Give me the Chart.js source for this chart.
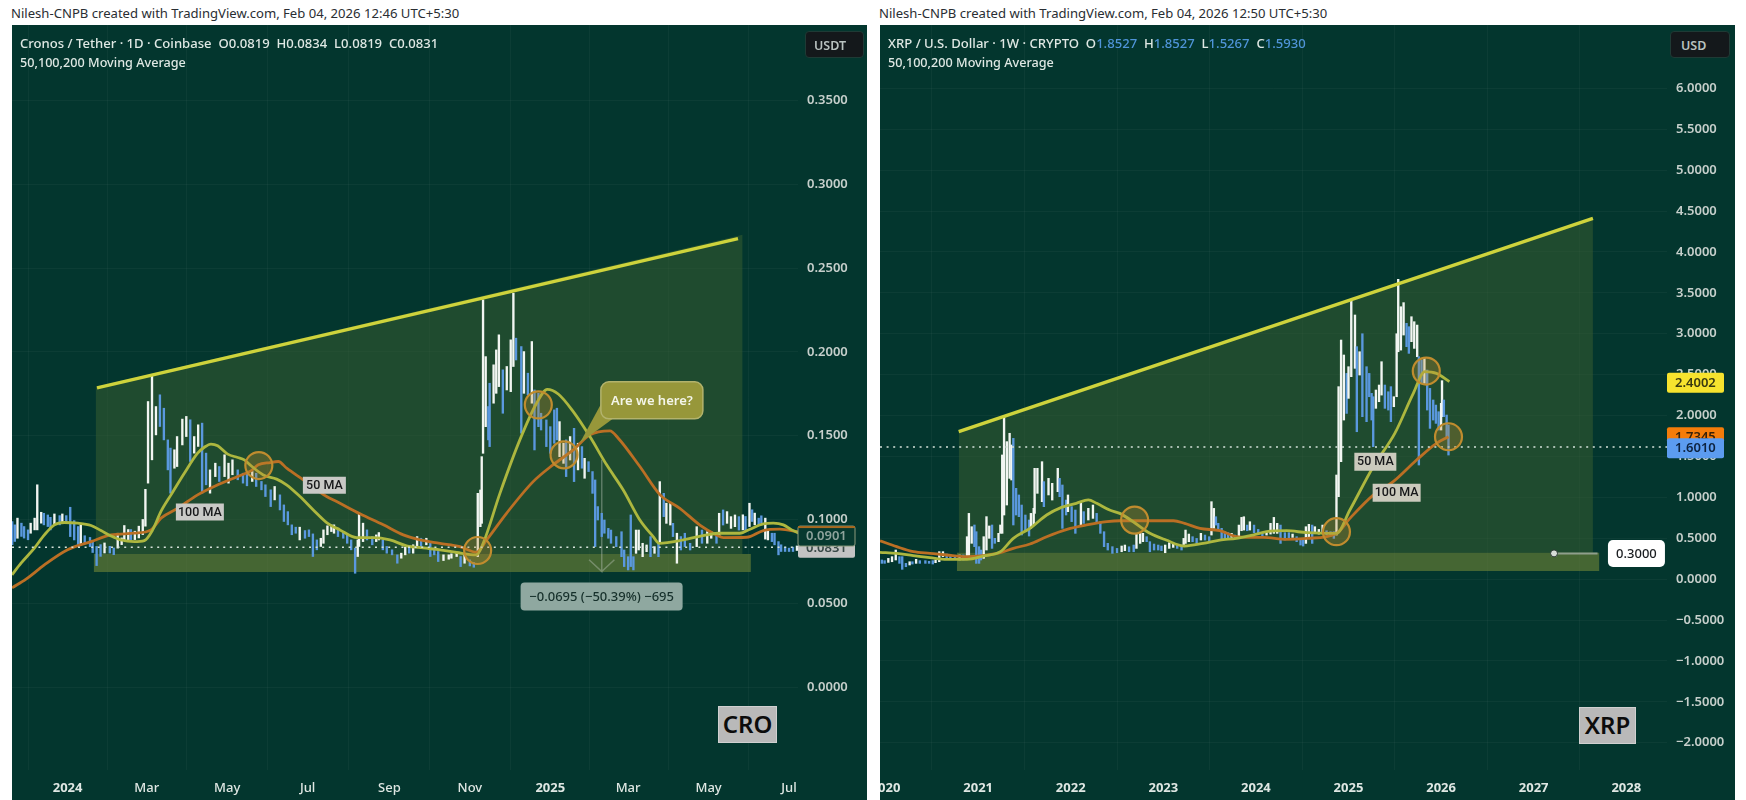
<!DOCTYPE html>
<html><head><meta charset="utf-8">
<script src="https://cdn.jsdelivr.net/npm/chart.js@4/dist/chart.umd.js"></script>
<style>
html,body{margin:0;padding:0;background:#fff;width:1746px;height:800px;overflow:hidden}
canvas{position:absolute;background:#03362e;display:block}
.t{position:absolute;white-space:pre;font-family:"Noto Sans",sans-serif;line-height:16px}
.cap{top:5px;font-size:13.1px;color:#2a2e33}
.leg{font-size:13.1px;font-weight:500;color:#dfe8e4}
.leg2{font-size:12.65px}
.leg b{font-weight:500;color:#4f94d8}
.unit{top:31px;height:27px;background:#14181b;border-radius:4px;font-size:12.5px;font-weight:600;color:#b9c2c0;line-height:27px;border:1px solid #1f3a35;box-sizing:border-box}
.sym{background:#b9b9b9;border:1.5px solid #d0d0d0;box-sizing:border-box;color:#0c0c0c;font-size:24px;font-weight:600;text-align:center}
</style></head><body>
<canvas id="cro" width="855" height="775" style="left:12px;top:25px;width:855px;height:775px"></canvas>
<canvas id="xrp" width="855" height="775" style="left:880px;top:25px;width:855px;height:775px"></canvas>
<div class="t cap" style="left:11px">Nilesh-CNPB created with TradingView.com, Feb 04, 2026 12:46 UTC+5:30</div>
<div class="t cap" style="left:879px">Nilesh-CNPB created with TradingView.com, Feb 04, 2026 12:50 UTC+5:30</div>
<div class="t leg" style="left:20px;top:35px">Cronos / Tether · 1D · Coinbase  O0.0819  H0.0834  L0.0819  C0.0831</div>
<div class="t leg leg2" style="left:20px;top:54px">50,100,200 Moving Average</div>
<div class="t leg" style="left:888px;top:35px">XRP / U.S. Dollar · 1W · CRYPTO  O<b>1.8527</b>  H<b>1.8527</b>  L<b>1.5267</b>  C<b>1.5930</b></div>
<div class="t leg leg2" style="left:888px;top:54px">50,100,200 Moving Average</div>
<div class="t unit" style="left:805px;width:59px;padding-left:8px">USDT</div>
<div class="t unit" style="left:1670px;width:60px;padding-left:10px">USD</div>
<div class="t sym" style="left:718px;top:706px;width:59px;height:37px;line-height:33px">CRO</div>
<div class="t sym" style="left:1579px;top:707px;width:57px;height:37px;line-height:33px">XRP</div>
<script>
// ---------- CRO panel data (x = days since 1 Jan 2024) ----------
const croDays=[-42,-40,-38,-35,-33,-30,-28,-25,-23,-20,-18,-15,-13,-10,-6,-4,-1,2,5,8,10,13,17,19,22,25,28,32,35,38,41,43,46,48,51,54,57,59,61,64,67,70,73,76,78,81,83,87,90,93,96,99,102,105,108,112,115,119,122,125,129,133,136,
140,143,147,150,154,157,161,164,167,170,173,176,180,183,186,189,192,194,197,200,202,205,209,212,215,218,220,221,224,227,231,234,236,239,242,246,250,253,256,259,262,265,268,272,275,278,281,285,289,291,295,298,301,305,308,311,313,314,315,317,319,320,323,325,327,330,333,336,338,340,344,346,349,352,354,357,359,363,366,369,371,373,376,378,381,384,387,390,392,395,398,400,402,405,407,410,412,416,420,422,425,427,429,431,433,436,439,442,445,448,449,452,454,457,459,462,465,468,472,477,481,485,488,492,494,497,500,503,506,509,512,514,517,519,521,524,526,529,531,534,536,539,541,544,547,550,553];
const croHigh=[.0988,.0968,.1008,.0978,.0958,.0938,.0978,.1008,.1207,.1043,.1037,.1027,.1013,.1033,.1023,.1033,.1023,.1073,.0993,.0958,.0968,.0903,.0893,.0873,.0839,.085,.086,.084,.083,.0918,.089,.0964,.094,.094,.093,.096,.100,.118,.1704,.1857,.1674,.1744,.1664,.1475,.1426,.1416,.1495,.1599,.1615,.1595,.1495,.1565,.1575,.1396,.1296,.1336,.1316,.1386,.1336,.1356,.1296,.1276,.1276,
.1286,.1276,.1227,.1207,.1177,.1197,.1147,.1087,.1047,.0968,.0954,.0954,.0934,.0938,.0914,.0878,.0888,.0938,.0962,.0968,.0968,.0938,.0928,.0908,.0878,.0829,.0878,.1034,.0978,.0938,.0898,.0908,.0922,.0878,.0839,.0819,.0789,.0799,.0835,.0839,.0849,.0898,.0888,.0888,.0858,.0829,.0809,.0789,.0789,.0795,.0803,.0779,.0789,.0759,.0743,.1156,.1176,.1375,.2311,.1972,.1674,.1813,.1923,.2012,.2102,.1893,.1913,.2072,.2350,.2082,.2032,.2002,.1873,.2062,.1773,.1753,.1634,.1594,.1554,.1654,.1664,.1584,.1455,.1475,.1495,.1544,.1455,.1435,.1365,.1345,.1286,.1236,.1077,.1037,.0997,.0947,.0937,.0898,.0927,.0818,.0778,.1027,.0778,.0937,.0937,.0858,.0848,.0898,.0838,.0858,.1226,.1156,.1097,.1097,.0977,.0918,.0898,.0918,.0858,.0957,.0937,.0927,.0927,.0918,.1037,.1057,.1047,.1017,.1027,.1017,.1028,.1018,.1097,.1058,.1038,.1008,.1022,.1008,.0938,.0918,.0918,.0868,.0849,.0835,.0829,.0835,.0842];
const croLow=[.0849,.0869,.0888,.0899,.0889,.0879,.0918,.0938,.0938,.0978,.0968,.0958,.0938,.0968,.0968,.0983,.0978,.0898,.0878,.0849,.0849,.0858,.0838,.0803,.0725,.078,.080,.080,.079,.0829,.085,.088,.088,.088,.088,.089,.091,.096,.1217,.1356,.1505,.1555,.1475,.1296,.1157,.1306,.1316,.1445,.1495,.1346,.1396,.1436,.1157,.1207,.1157,.1256,.1227,.1256,.1217,.1267,.1237,.1217,.1201,
.1227,.1197,.1177,.1137,.1077,.1117,.1057,.0988,.0968,.0909,.0918,.0878,.0888,.0898,.0779,.0819,.0839,.0858,.0909,.0928,.0918,.0898,.0888,.0858,.0819,.0679,.0779,.0839,.0868,.0878,.0849,.0868,.0878,.0819,.0799,.0789,.0739,.0769,.0789,.0799,.0799,.0839,.0839,.0849,.0779,.0789,.0749,.0755,.0763,.0769,.0779,.0719,.0739,.0723,.0715,.0778,.0957,.0977,.1395,.1554,.1475,.1435,.1694,.1753,.1793,.1634,.1773,.1763,.1913,.1952,.1515,.1753,.1743,.1694,.1415,.1554,.1534,.1435,.1395,.1455,.1475,.1375,.1335,.1256,.1355,.1226,.1296,.1306,.1246,.1286,.1156,.0838,.0997,.0898,.0918,.0888,.0858,.0838,.0778,.0719,.0699,.0719,.0699,.0798,.0818,.0778,.0808,.0778,.0798,.0778,.0858,.1017,.0977,.0967,.0898,.0739,.0818,.0838,.0818,.0838,.0858,.0858,.0888,.0858,.0898,.0967,.0977,.0947,.0957,.0937,.0938,.0928,.0958,.0988,.0968,.0968,.0978,.0883,.0878,.0868,.0849,.0789,.0809,.0809,.0809,.0809,.0815];
const croUp=[0,0,1,0,0,0,1,1,1,1,0,0,0,1,0,1,0,0,0,0,1,0,0,0,0,0,1,0,0,1,1,1,1,0,1,1,1,1,1,1,1,0,0,0,0,1,1,1,1,0,1,1,0,0,1,1,0,1,1,1,0,0,0,
1,0,0,0,0,1,0,0,0,0,0,1,0,0,0,0,1,1,1,1,1,0,0,0,0,0,1,1,1,0,0,1,1,0,0,0,0,1,1,0,1,1,0,1,0,0,0,1,1,1,1,0,1,0,0,1,1,1,1,1,0,0,1,1,1,0,1,1,1,0,0,1,0,1,0,0,0,0,0,0,0,1,1,0,1,0,1,0,1,0,0,0,0,0,0,0,0,0,0,0,0,0,0,1,1,1,1,0,1,0,1,0,1,1,0,1,0,0,0,1,0,1,1,0,1,0,1,1,1,0,1,0,1,0,1,0,0,1,1,0,0,0,0,0,0,0,1,0,1];
const cro50Days=[-42.15,-35.3,-25.2,-17.6,-10,-2.5,7.6,17.8,25.3,32.9,40.5,50.6,58.2,64.5,70.8,78.4,88.5,98.6,103.7,108.7,113.8,121.4,129,134,138.3,148.4,158.5,166,176.2,186.3,196.4,206.5,219.2,231.8,244.4,257,269.7,282.3,295,310.1,315.1,327.8,342.9,355.6,363.7,372,383.4,396,408.7,421.3,433.9,444,448.6,466.9,484.5,494.6,509.8,517.4,527.5,535.1,542.7,549,554.8];
const cro50Vals=[.067,.0739,.0829,.0908,.0968,.0982,.0978,.0964,.0934,.0902,.0878,.0868,.0874,.0938,.1048,.1147,.1276,.1396,.1431,.145,.144,.139,.137,.1356,.1326,.1266,.1241,.1207,.1137,.1057,.0982,.0938,.0892,.0892,.0878,.0843,.083,.0819,.0803,.0789,.0858,.1156,.1475,.1694,.1777,.1749,.1644,.1495,.1326,.1176,.0997,.0898,.0858,.0878,.0908,.0918,.0918,.0942,.0974,.0978,.0968,.0938,.0918];
const cro100Days=[-42.15,-31.5,-17.6,0,17.8,32.9,50.6,63.2,70.8,83.5,98.6,113.8,129,139,144.6,153.5,159.8,166.1,178.7,196.4,204,221.7,239.4,254.5,267.2,282.3,297.5,310,317.7,332.8,353,368,383.4,396,411.2,417.5,433.9,449.2,464.2,479.4,492,497.2,514.9,527.5,540,554.8];
const cro100Vals=[.0592,.0644,.0729,.0819,.0868,.0908,.0918,.0938,.1008,.1067,.1147,.1207,.1257,.129,.1326,.134,.1346,.1306,.1237,.1137,.1107,.1034,.0968,.0908,.0878,.0858,.0838,.0805,.0878,.1037,.1226,.1326,.1415,.1505,.1529,.1485,.1316,.1147,.1067,.0967,.0908,.0892,.0894,.0934,.0942,.0924];
const croTrendDays=[22.3,508.3], croTrendVals=[.1786,.2676];
const croZoneDays=[21.3,511.8], croZoneVals=[.1792,.2700], croBandDays=[19.8,518.1], croBandTop=.0794, croBandBottom=.0687;
const croCircleDays=[145,310.9,356.9,376.4], croCircleVals=[.1322,.0815,.1684,.1386];
const croArrowDays=[405,405,395.4,405,414.6], croArrowVals=[.1356,.069,.076,.069,.076];
const croLast=.0834;
const croTickDays=[0,60,121,182,244,305,366,425,486,547];
const croTickText=['2024','Mar','May','Jul','Sep','Nov','2025','Mar','May','Jul'];
const croPriceTicks=[0,.05,.1,.15,.2,.25,.3,.35];

// ---------- XRP panel data (x = calendar year) ----------
const xrpYears=[2019.96,2019.99,2020.03,2020.07,2020.11,2020.15,2020.18,2020.22,2020.26,2020.29,2020.33,2020.37,2020.43,2020.47,2020.51,2020.54,2020.58,2020.62,2020.66,2020.70,2020.75,2020.80,2020.84,2020.88,2020.90,2020.93,2020.96,2020.98,2021.01,2021.03,2021.06,2021.09,2021.12,2021.15,2021.18,2021.22,2021.24,2021.26,2021.28,2021.31,2021.34,2021.36,2021.38,2021.41,2021.44,2021.47,2021.51,2021.55,2021.57,2021.60,2021.61,2021.64,2021.69,2021.71,2021.76,2021.80,2021.86,2021.88,2021.91,2021.95,2021.97,2022.01,2022.05,2022.11,2022.14,2022.19,2022.24,2022.28,2022.32,2022.36,2022.40,2022.45,2022.50,
2022.55,2022.585,2022.63,2022.68,2022.71,2022.75,2022.78,2022.82,2022.855,2022.90,2022.945,2022.98,2023.02,2023.064,2023.107,2023.15,2023.197,2023.22,2023.24,2023.276,2023.316,2023.36,2023.406,2023.45,2023.496,2023.52,2023.546,2023.568,2023.593,2023.63,2023.665,2023.70,2023.737,2023.773,2023.816,2023.845,2023.87,2023.906,2023.935,2023.98,2024.025,2024.07,2024.115,2024.158,2024.194,2024.23,2024.266,2024.313,2024.356,2024.396,2024.44,2024.482,2024.51,2024.54,2024.572,2024.608,2024.637,2024.68,2024.72,2024.763,2024.806,2024.842,
2024.87,2024.893,2024.92,2024.95,2024.98,2025.0,2025.03,2025.07,2025.09,2025.12,2025.15,2025.195,2025.224,2025.25,2025.267,2025.296,2025.33,2025.357,2025.393,2025.43,2025.458,2025.49,2025.52,2025.537,2025.566,2025.595,2025.627,2025.652,2025.68,2025.71,2025.742,2025.76,2025.789,2025.82,2025.85,2025.88,2025.915,2025.944,2025.973,2026.0,2026.01,2026.03,2026.06,2026.08];
const xrpHigh=[.234,.226,.254,.275,.356,.275,.275,.193,.213,.213,.242,.226,.226,.218,.226,.234,.336,.336,.307,.295,.287,.295,.295,.519,.804,.641,.662,.58,.397,.356,.519,.764,.65,.662,.499,.56,.662,1.518,1.986,1.681,1.783,1.64,1.721,1.11,1.029,.906,.784,.723,.804,.866,1.355,1.355,1.436,1.192,1.232,1.171,1.355,1.232,1.151,.967,1.029,.886,.845,.927,.825,.866,.906,.804,.703,.58,.438,.397,.376,
.405,.417,.396,.417,.56,.56,.56,.519,.458,.429,.417,.405,.417,.445,.437,.417,.417,.498,.6,.551,.519,.498,.56,.539,.519,.947,.865,.763,.682,.621,.58,.568,.56,.539,.661,.755,.763,.661,.702,.661,.608,.568,.58,.682,.755,.682,.661,.568,.568,.551,.519,.498,.498,.641,.67,.661,.641,.608,.661,.592,.58,.58,
1.273,2.353,2.923,2.74,2.515,2.597,3.412,3.229,2.842,2.78,3.0,2.597,2.515,2.271,2.23,2.312,2.373,2.658,2.373,2.291,2.353,2.23,3.0,3.665,3.33,3.38,3.127,3.086,3.208,3.147,3.106,2.719,2.679,2.699,2.556,2.332,2.19,2.128,2.047,2.149,2.426,2.19,2.006,1.884];
const xrpLow=[.193,.193,.205,.213,.234,.193,.12,.152,.173,.185,.193,.193,.193,.193,.185,.201,.213,.275,.254,.242,.242,.234,.234,.254,.275,.438,.397,.193,.193,.234,.254,.356,.499,.376,.438,.458,.56,.56,.784,.906,1.232,1.212,.662,.784,.764,.54,.58,.527,.621,.662,.804,1.049,.947,.886,1.029,.967,1.069,1.008,.621,.784,.825,.703,.56,.662,.682,.723,.743,.682,.56,.397,.356,.315,.323,
.335,.348,.335,.335,.376,.437,.458,.458,.335,.356,.356,.348,.323,.376,.388,.376,.356,.405,.437,.458,.458,.437,.478,.478,.47,.539,.621,.661,.6,.478,.498,.498,.51,.498,.51,.592,.6,.592,.6,.568,.551,.51,.539,.551,.56,.56,.437,.478,.498,.51,.458,.417,.405,.437,.519,.437,.56,.551,.56,.539,.526,.498,
.539,1.008,1.436,1.945,2.026,2.21,2.475,2.577,1.802,2.495,1.986,1.925,2.23,1.945,1.619,2.088,2.169,2.25,2.088,2.067,1.925,2.108,2.23,2.78,2.8,2.984,2.842,2.76,2.903,2.821,2.719,1.395,2.393,2.393,2.067,1.843,1.945,1.904,1.823,1.823,1.986,1.986,1.741,1.517];
const xrpUp=[0,0,1,1,1,0,0,0,1,0,1,0,0,0,0,1,1,1,0,0,0,1,0,1,1,1,0,0,0,0,1,1,1,0,0,1,1,1,1,1,1,1,0,0,0,0,0,0,1,1,1,1,1,0,1,1,1,0,0,0,1,0,0,1,0,1,1,0,0,0,0,0,0,
1,1,0,0,1,1,1,0,0,0,0,0,1,1,1,0,0,1,1,1,0,0,1,0,0,1,1,0,0,0,0,0,1,0,1,1,1,0,1,0,0,0,1,1,1,1,0,0,0,1,0,0,0,1,1,0,1,1,1,0,0,0,
1,1,1,1,0,1,1,1,0,1,0,0,0,0,0,1,1,1,0,0,0,1,1,1,1,1,0,0,1,1,1,0,0,1,0,0,0,0,0,1,1,0,0,0];
const xrp50Years=[2019.94,2020.12,2020.3,2020.48,2020.66,2020.88,2021.06,2021.24,2021.38,2021.56,2021.74,2021.9,2022.06,2022.19,2022.28,2022.42,2022.53,2022.675,2022.855,2023.03,2023.23,2023.43,2023.61,2023.79,2023.97,2024.115,2024.33,2024.55,2024.87,2025.015,2025.267,2025.5,2025.70,2025.825,2025.95,2026.09];
const xrp50Vals=[.328,.315,.287,.263,.242,.242,.283,.336,.499,.621,.784,.878,.927,.968,.927,.845,.804,.702,.56,.478,.405,.437,.478,.498,.539,.58,.592,.568,.559,.845,1.375,1.782,2.271,2.536,2.515,2.414];
const xrp100Years=[2019.94,2020.12,2020.3,2020.48,2020.66,2020.88,2021.02,2021.24,2021.38,2021.56,2021.74,2021.96,2022.17,2022.39,2022.53,2022.75,2023.11,2023.23,2023.395,2023.61,2023.79,2023.935,2024.08,2024.33,2024.55,2024.87,2025.015,2025.267,2025.483,2025.735,2025.95,2026.08];
const xrp100Vals=[.47,.397,.336,.315,.295,.275,.283,.324,.377,.43,.519,.609,.662,.703,.714,.714,.714,.682,.621,.592,.519,.51,.51,.486,.498,.559,.743,1.028,1.191,1.456,1.66,1.741];
const xrpTrendYears=[2020.79,2027.64], xrpTrendVals=[1.802,4.41];
const xrpZoneYears=[2020.79,2027.64], xrpZoneVals=[1.802,4.41], xrpBandYears=[2020.77,2027.71], xrpBandTop=.323, xrpBandBottom=.099;
const xrpCircleYears=[2022.69,2024.87,2025.84,2026.08], xrpCircleVals=[.722,.58,2.544,1.741];
const xrpLevelYears=[2027.22,2027.69], xrpLevelVals=[.315,.315];
const xrpLast=1.615;
const xrpTickYears=[2020,2021,2022,2023,2024,2025,2026,2027,2028];
const xrpTickText=['2020','2021','2022','2023','2024','2025','2026','2027','2028'];
const xrpPriceTicks=[-2,-1.5,-1,-.5,0,.5,1,1.5,2,2.5,3,3.5,4,4.5,5,5.5,6];

// ---------- colours ----------
const WHITE='#f2f6f2', BLUE='#5a98de', MA50='#adb73f', MA100='#bb6f24', TREND='#ced33c';
const ZONE='rgba(60,95,48,.5)', BAND='rgba(110,130,55,.62)', CIRC='#c08c2e', CIRCF='rgba(190,140,45,.3)';
const FONT='"Noto Sans",sans-serif';

const zip=(xs,ys)=>xs.map((x,i)=>({x,y:ys[i]}));

function roundRect(c,x,y,w,h,r){c.beginPath();c.roundRect(x,y,w,h,r);}
function box(c,cx,cy,w,h,o){
  roundRect(c,cx-w/2,cy-h/2,w,h,o.r||0);
  c.fillStyle=o.bg;c.fill();
  if(o.border){c.strokeStyle=o.border;c.lineWidth=o.bw||1;c.stroke();}
  c.fillStyle=o.color;c.font=o.font;c.textAlign='center';c.textBaseline='middle';
  c.fillText(o.text,cx,cy+.5);
}

const overlay=(labels,tags,tail)=>({id:'overlay',afterDraw(chart){
  const c=chart.ctx,X=chart.scales.x,Y=chart.scales.y;
  c.save();
  if(tail){
    const tx=X.getPixelForValue(tail.x),ty=Y.getPixelForValue(tail.y),bx=X.getPixelForValue(tail.bx),by=Y.getPixelForValue(tail.by);
    c.beginPath();c.moveTo(bx-tail.w/2,by+4);c.lineTo(tx,ty);c.lineTo(bx-tail.w/2+12,by+tail.h/2);c.closePath();c.fillStyle='#97973a';c.fill();
  }
  labels.forEach(l=>box(c,X.getPixelForValue(l.x),Y.getPixelForValue(l.y),l.w,l.h,l));
  tags.forEach(t=>{
    const h=t.h||20,cy=Y.getPixelForValue(t.y),x0=X.right;
    roundRect(c,x0,cy-h/2,57,h,2);c.fillStyle=t.bg;c.fill();
    if(t.border){c.strokeStyle=t.border;c.lineWidth=1;c.stroke();}
    if(t.top){c.fillStyle=t.top;c.fillRect(x0,cy-h/2,57,2);}
    c.fillStyle=t.color;c.font='600 13px '+FONT;c.textAlign='left';c.textBaseline='middle';
    c.fillText(t.text,x0+8,cy+.5);
  });
  c.restore();
}});

function panel(id,o){
  const datasets=[
    {type:'line',data:zip(o.zoneX,o.zoneY),borderWidth:0,pointRadius:0,fill:{value:o.bandTop},backgroundColor:ZONE,order:9},
    {type:'line',data:zip(o.bandX,[o.bandTop,o.bandTop]),borderWidth:0,pointRadius:0,fill:{value:o.bandBottom},backgroundColor:BAND,order:8},
    {type:'bar',data:o.barX.map((x,i)=>({x,y:[o.low[i],o.high[i]]})),barThickness:o.barW,grouped:false,borderWidth:0,
      backgroundColor:o.up.map(u=>u?WHITE:BLUE),order:6},
    {type:'line',data:zip(o.ma100X,o.ma100Y),borderColor:MA100,borderWidth:2.8,pointRadius:0,cubicInterpolationMode:'monotone',order:5},
    {type:'line',data:zip(o.ma50X,o.ma50Y),borderColor:MA50,borderWidth:2.8,pointRadius:0,cubicInterpolationMode:'monotone',order:4},
    {type:'line',data:zip(o.trendX,o.trendY),borderColor:TREND,borderWidth:3.4,pointRadius:0,order:3},
    {type:'line',data:zip(o.range,[o.last,o.last]),borderColor:'#d5e2da',borderWidth:1.6,borderDash:[2,4.6],pointRadius:0,order:2},
    {type:'scatter',data:zip(o.circX,o.circY),pointRadius:13.5,pointBorderWidth:2.2,pointBorderColor:CIRC,pointBackgroundColor:CIRCF,order:1}
  ].concat(o.extra||[]);
  new Chart(document.getElementById(id),{
    data:{datasets},
    plugins:[overlay(o.labels,o.tags,o.tail)],
    options:{responsive:false,animation:false,events:[],
      layout:{padding:0,autoPadding:false},
      plugins:{legend:{display:false},tooltip:{enabled:false}},
      scales:{
        x:{type:'linear',min:o.range[0],max:o.range[1],offset:false,
          grid:{color:'rgba(255,255,255,.035)',drawTicks:false,drawBorder:false},border:{display:false},
          afterBuildTicks:s=>{s.ticks=o.xTicks.map(v=>({value:v}));},
          afterFit:s=>{s.height=30;s.paddingLeft=0;s.paddingRight=0;},
          ticks:{autoSkip:false,maxRotation:0,padding:10,color:'#dfe7e3',
            font:c=>({family:FONT,size:13,weight:/^\d/.test(o.xText[c.index]||'')?700:500}),
            callback:(v,i)=>o.xText[i]}},
        y:{type:'linear',position:'right',min:o.yMin,max:o.yMax,
          grid:{color:'rgba(255,255,255,.035)',drawTicks:false},border:{display:false},
          afterBuildTicks:s=>{s.ticks=o.yTicks.map(v=>({value:v}));},
          afterFit:s=>{s.width=o.axisW;s.paddingTop=0;s.paddingBottom=0;},
          ticks:{autoSkip:false,padding:o.yPad,color:'#c6cfcb',font:{family:FONT,size:13,weight:600},
            callback:v=>(v<0?'\u2212':'')+Math.abs(v).toFixed(4)}}
      }}
  });
}

panel('cro',{
  barX:croDays,high:croHigh,low:croLow,up:croUp,barW:1.7,
  ma50X:cro50Days,ma50Y:cro50Vals,ma100X:cro100Days,ma100Y:cro100Vals,
  trendX:croTrendDays,trendY:croTrendVals,zoneX:croZoneDays,zoneY:croZoneVals,
  bandX:croBandDays,bandTop:croBandTop,bandBottom:croBandBottom,
  circX:croCircleDays,circY:croCircleVals,last:croLast,
  range:[-42.15,553.8],yMin:-.0495,yMax:.3951,axisW:69,yPad:9,
  xTicks:croTickDays,xText:croTickText,yTicks:croPriceTicks,
  extra:[{type:'line',data:zip(croArrowDays,croArrowVals),borderColor:'rgba(205,215,205,.35)',borderWidth:1.5,pointRadius:0,order:7}],
  tail:{x:388.5,y:.1458,bx:443,by:.1711,w:102,h:37},
  labels:[
    {x:100.3,y:.1044,w:48,h:17,text:'100 MA',bg:'#c9c9c6',color:'#17181a',font:'500 12.5px Roboto,sans-serif'},
    {x:194.7,y:.1204,w:43,h:17,text:'50 MA',bg:'#c9c9c6',color:'#17181a',font:'500 12.5px Roboto,sans-serif'},
    {x:443,y:.1711,w:102,h:37,r:8,text:'Are we here?',bg:'#97973a',border:'#b3b36c',bw:1.5,color:'#f4f6ea',font:'600 13px '+FONT},
    {x:404.9,y:.0541,w:162,h:28,r:4,text:'\u22120.0695 (\u221250.39%) \u2212695',bg:'#8fa8a0',color:'#16302b',font:'500 13px '+FONT}
  ],
  tags:[
    {y:.0831,text:'0.0831',bg:'#c3c3c3',color:'#3a4a48'},
    {y:.0901,text:'0.0901',bg:'#07392f',color:'#8ea39c',border:'#8d9a7d',top:'#a8691f'}
  ]
});

panel('xrp',{
  barX:xrpYears,high:xrpHigh,low:xrpLow,up:xrpUp,barW:1.7,
  ma50X:xrp50Years,ma50Y:xrp50Vals,ma100X:xrp100Years,ma100Y:xrp100Vals,
  trendX:xrpTrendYears,trendY:xrpTrendVals,zoneX:xrpZoneYears,zoneY:xrpZoneVals,
  bandX:xrpBandYears,bandTop:xrpBandTop,bandBottom:xrpBandBottom,
  circX:xrpCircleYears,circY:xrpCircleVals,last:xrpLast,
  range:[2019.94,2028.44],yMin:-2.333,yMax:6.774,axisW:68,yPad:9,
  xTicks:xrpTickYears,xText:xrpTickText,yTicks:xrpPriceTicks,
  extra:[{type:'line',data:zip(xrpLevelYears,xrpLevelVals),borderColor:'#8f9f8c',borderWidth:2,
    pointRadius:[3.5,0],pointBackgroundColor:'#d8dcd8',pointBorderColor:'#2b3a33',pointBorderWidth:1,order:0}],
  labels:[
    {x:2025.29,y:1.435,w:42,h:18,text:'50 MA',bg:'#cbcabd',color:'#17181a',font:'500 12.5px Roboto,sans-serif'},
    {x:2025.52,y:1.056,w:48,h:18,text:'100 MA',bg:'#cbcabd',color:'#17181a',font:'500 12.5px Roboto,sans-serif'},
    {x:2028.11,y:.313,w:57,h:27,r:5,text:'0.3000',bg:'#ffffff',color:'#1a1d20',font:'500 13px '+FONT}
  ],
  tags:[
    {y:2.4002,text:'2.4002',bg:'#f7e32e',color:'#3a3a10'},
    {y:1.7345,text:'1.7345',bg:'#f57c0a',color:'#3a2208'},
    {y:1.6010,text:'1.6010',bg:'#5c9cf0',color:'#0d2340'}
  ]
});
</script>
</body></html>
